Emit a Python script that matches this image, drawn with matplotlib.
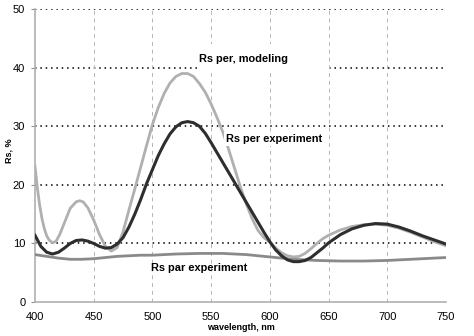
import numpy as np
import matplotlib
matplotlib.use("Agg")
import matplotlib.pyplot as plt
from matplotlib.patches import Rectangle

plt.rcParams["font.family"] = ["Liberation Sans", "DejaVu Sans"]

# Rs per, modeling
wl_mod = [400, 402, 404, 406, 408, 410, 412, 415, 418, 421, 425, 430, 435, 438, 441, 445,
          450, 455, 460, 465, 470, 475, 480, 485, 490, 495, 500, 505, 510, 515, 520, 525,
          530, 535, 540, 545, 550, 555, 560, 565, 570, 575, 580, 585, 590, 595, 600, 605,
          610, 615, 620, 625, 630, 635, 640, 645, 650, 660, 670, 680, 690, 700, 710, 720,
          730, 740, 750]
rs_mod = [23.2, 19.5, 16.5, 14.2, 12.5, 11.3, 10.6, 10.1, 10.4, 11.5, 13.5, 16.0, 17.1, 17.3, 17.1, 16.1,
          14.0, 11.5, 9.5, 8.7, 9.3, 12.0, 15.7, 19.3, 23.0, 26.7, 30.3, 33.2, 35.6, 37.4, 38.5, 39.0,
          39.0, 38.5, 37.3, 35.8, 33.8, 31.5, 29.0, 26.0, 22.8, 19.6, 16.7, 14.2, 12.2, 11.0, 10.2, 9.2,
          8.4, 7.9, 7.7, 7.8, 8.3, 9.1, 10.0, 10.8, 11.4, 12.3, 12.9, 13.2, 13.3, 13.1, 12.6, 11.9,
          11.1, 10.3, 9.6]

# Rs per experiment
wl_per = [400, 405, 410, 415, 420, 425, 430, 435, 440, 445, 450, 455, 460, 465, 470,
          475, 480, 485, 490, 495, 500, 505, 510, 515, 520, 525, 530, 535, 540, 545,
          550, 555, 560, 565, 570, 575, 580, 585, 590, 595, 600, 605, 610, 615, 620,
          625, 630, 635, 640, 645, 650, 660, 670, 680, 690, 700, 710, 720, 730, 740, 750]
rs_per = [11.4, 9.5, 8.5, 8.2, 8.5, 9.2, 10.0, 10.5, 10.6, 10.4, 10.0, 9.5, 9.2, 9.3, 9.9,
          11.0, 12.8, 15.0, 17.5, 20.2, 22.6, 25.0, 27.0, 28.7, 29.9, 30.6, 30.8, 30.6, 30.0, 28.8,
          27.2, 25.5, 23.8, 22.1, 20.4, 18.7, 17.0, 15.3, 13.6, 11.9, 10.3, 8.9, 7.9, 7.2, 6.9,
          6.9, 7.1, 7.6, 8.4, 9.2, 10.1, 11.5, 12.5, 13.1, 13.4, 13.3, 12.8, 12.1, 11.3, 10.6, 9.9]

# Rs par experiment
wl_par = [400, 410, 420, 430, 440, 450, 460, 470, 480, 490, 500, 520, 540, 560, 580,
          600, 620, 640, 660, 680, 700, 720, 740, 750]
rs_par = [8.1, 7.8, 7.5, 7.3, 7.3, 7.4, 7.6, 7.8, 7.9, 8.0, 8.0, 8.2, 8.3, 8.3, 8.1,
          7.7, 7.3, 7.1, 7.0, 7.0, 7.1, 7.3, 7.5, 7.6]

x_ticks = [400, 450, 500, 550, 600, 650, 700, 750]
y_ticks = [0, 10, 20, 30, 40, 50]

fig = plt.figure(figsize=(4.74, 3.36), dpi=100)
ax = fig.add_axes([0.0738, 0.101, 0.8671, 0.872])

ax.set_xlim(400, 750)
ax.set_ylim(0, 50)

# grid: dotted black horizontal, dashed grey vertical
for y in y_ticks[1:]:
    ax.axhline(y, color="black", linestyle=(0, (1, 2.5)), linewidth=1.1, zorder=1)
for x in x_ticks[1:]:
    ax.axvline(x, color="#b4b4b4", linestyle=(0, (4, 4)), linewidth=0.7, zorder=1)

# white box behind the modeling label breaks the 40 line
ax.add_patch(Rectangle((539, 39.6), 111, 4.5, facecolor="white", edgecolor="none", zorder=2))

ax.plot(wl_par, rs_par, color="#8a8a8a", linewidth=2.0, zorder=3)
ax.plot(wl_mod, rs_mod, color="#b0b0b0", linewidth=2.0, zorder=3)
ax.plot(wl_per, rs_per, color="#2e2e2e", linewidth=2.2, zorder=4)

lbl = dict(fontsize=7.9, fontweight="bold", zorder=5)
ax.text(540, 41.5, "Rs per, modeling", ha="left", va="center", **lbl)
ax.text(563, 27.8, "Rs per experiment", ha="left", va="center",
        bbox=dict(facecolor="white", edgecolor="none", pad=1.5), **lbl)
ax.text(540, 5.85, "Rs par experiment", ha="center", va="center", **lbl)

ax.spines["top"].set_visible(False)
ax.spines["right"].set_visible(False)
ax.spines["left"].set_color("#b0b0b0")
ax.spines["bottom"].set_color("#b0b0b0")
ax.spines["left"].set_linewidth(1.2)
ax.spines["bottom"].set_linewidth(1.2)

ax.set_xticks(x_ticks)
ax.set_yticks(y_ticks)
ax.tick_params(axis="both", colors="#909090", labelcolor="black", labelsize=8, width=0.8)
ax.tick_params(axis="y", length=3, pad=4)
ax.tick_params(axis="x", length=0, pad=7)

ax.set_xlabel("wavelength, nm", fontsize=6.5, fontweight="bold", labelpad=1)
ax.set_ylabel("Rs, %", fontsize=6.5, fontweight="bold")
ax.yaxis.set_label_coords(-0.052, 0.515)

plt.savefig("out.png", dpi=100)
